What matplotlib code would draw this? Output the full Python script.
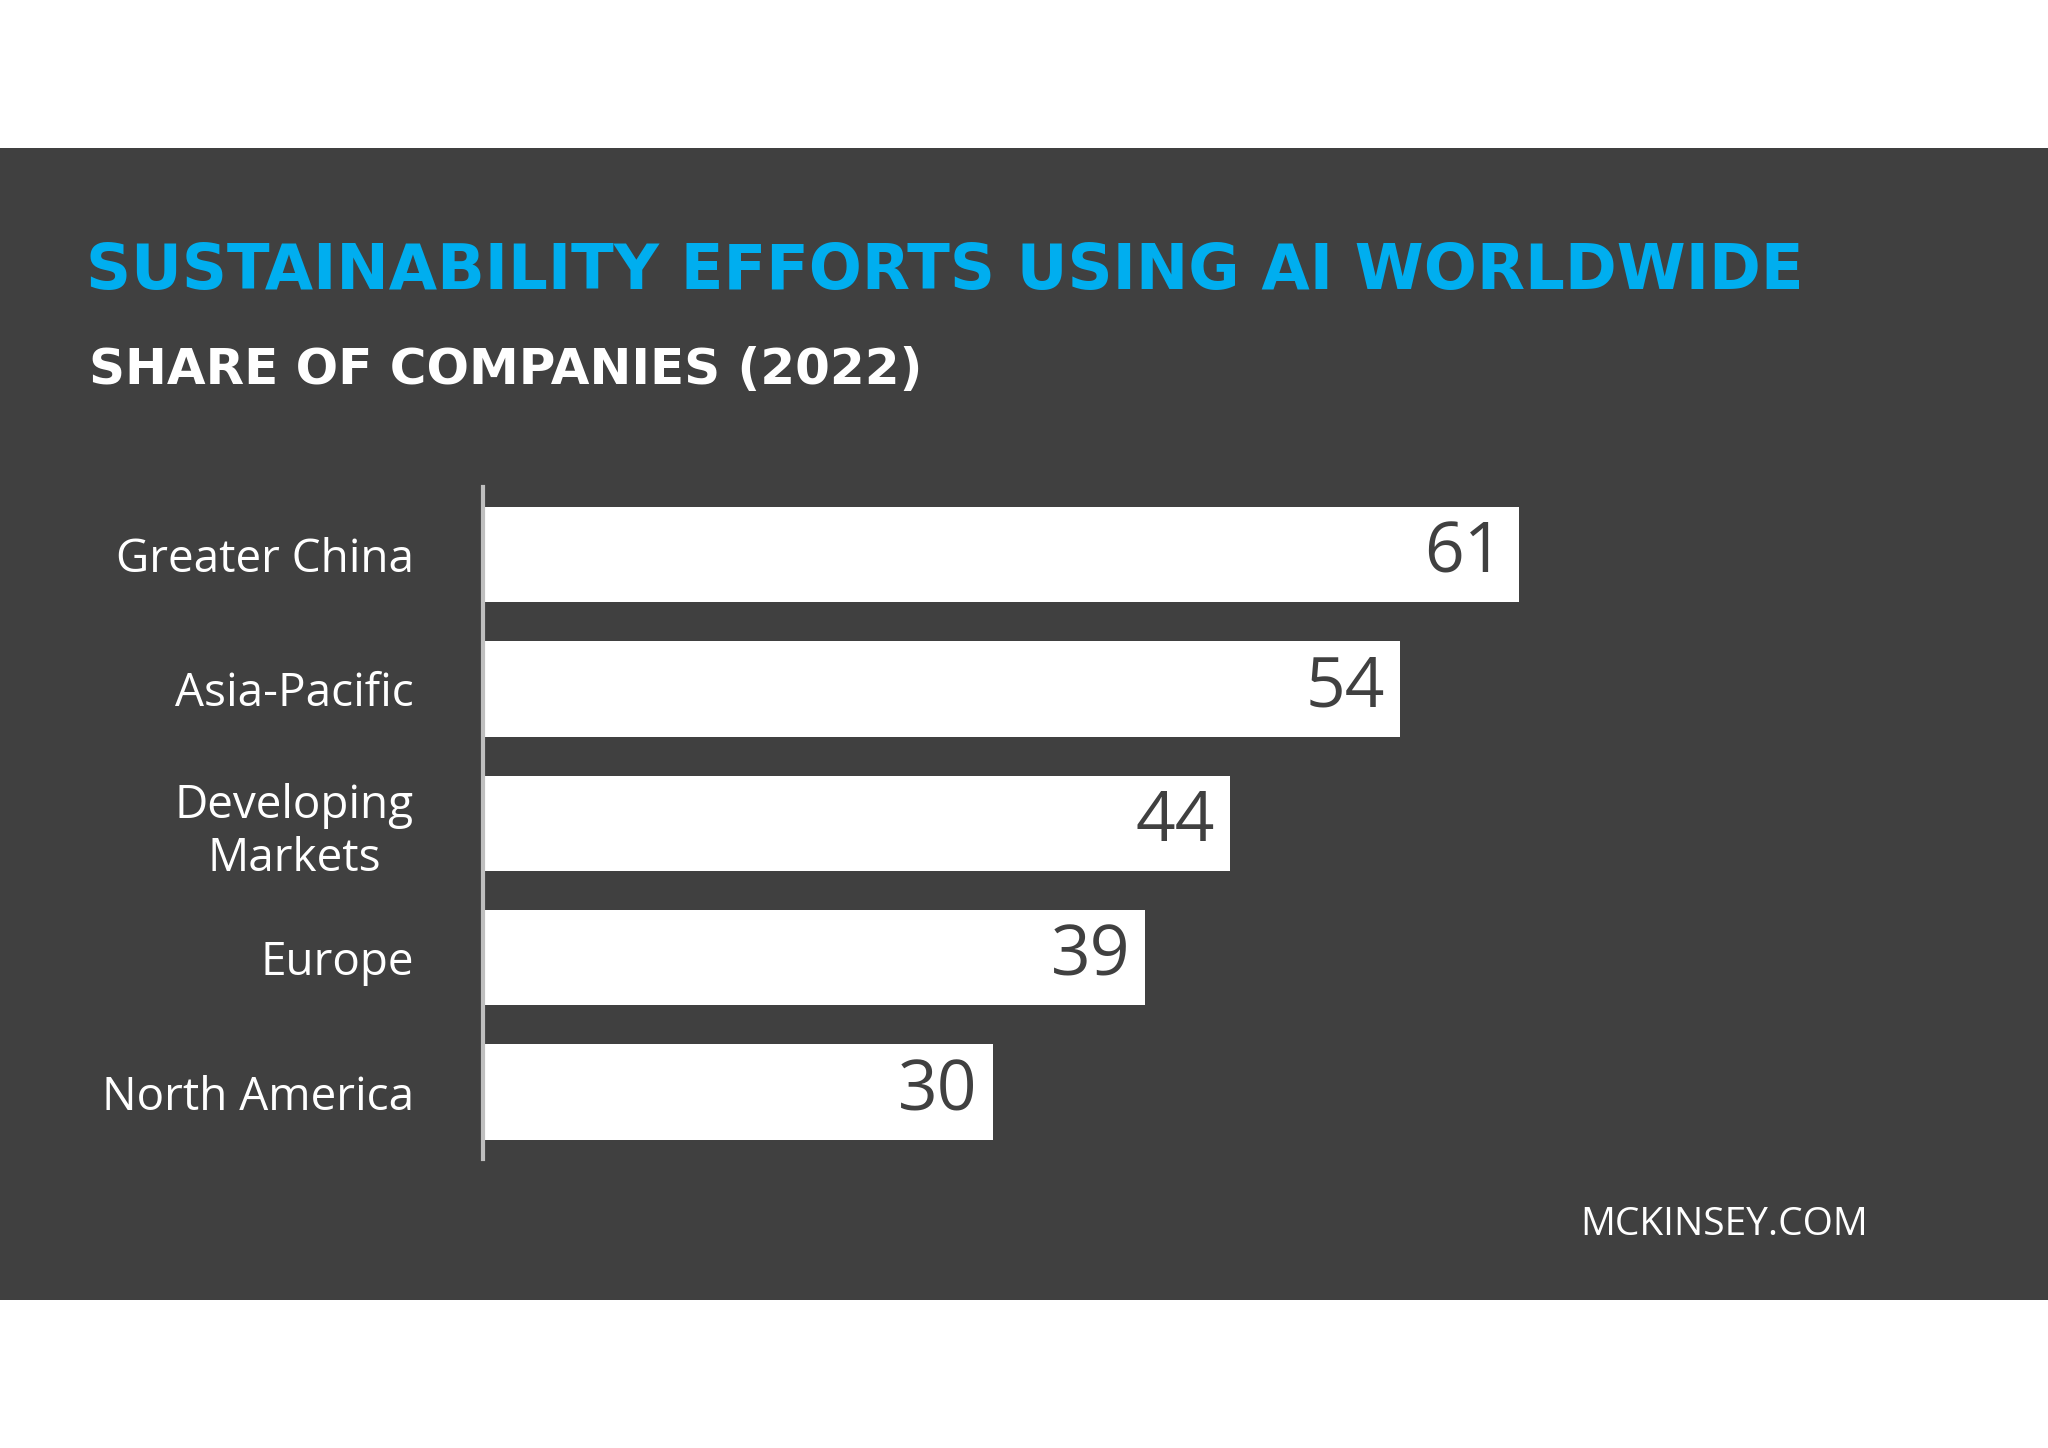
import matplotlib.pyplot as plt
from matplotlib.patches import Rectangle

regions = ['Greater China', 'Asia-Pacific', 'Developing\nMarkets', 'Europe', 'North America']
shares = [61, 54, 44, 39, 30]

W, H = 1568, 1108  # reference layout units
fig = plt.figure(figsize=(20.48, 14.48), dpi=100)
fig.patch.set_facecolor('white')
fig.patches.append(Rectangle((0, 1 - 995 / H), 1, (995 - 113) / H, transform=fig.transFigure,
                             facecolor='#404040', edgecolor='none', zorder=-5))

fig.text(66 / W, 1 - 208 / H, 'SUSTAINABILITY EFFORTS USING AI WORLDWIDE', color='#00AEEF',
         fontsize=45, fontweight='bold', family='DejaVu Sans', va='center', ha='left')
fig.text(68 / W, 1 - 283 / H, 'SHARE OF COMPANIES (2022)', color='white',
         fontsize=36, fontweight='bold', family='DejaVu Sans', va='center', ha='left')
fig.text(1430 / W, 1 - 937 / H, 'MCKINSEY.COM', color='white', fontsize=28,
         family='Open Sans', va='center', ha='right')

ax = fig.add_axes([370 / W, 1 - 887 / H, 1170 / W, 514 / H])
ax.set_zorder(5)
ax.set_facecolor('none')
y = list(range(len(regions)))
ax.barh(y, shares, height=0.71, color='white')
for yi, v in zip(y, shares):
    ax.text(v - 0.9, yi, str(v), ha='right', va='center', fontsize=50,
            family='Open Sans', color='#404040')
ax.set_xlim(0, 90)
ax.set_ylim(4.5, -0.5)
ax.set_yticks(y)
ax.set_yticklabels(regions, fontsize=33, family='Open Sans', color='white', multialignment='center')
ax.tick_params(axis='y', length=0, pad=50)
ax.set_xticks([])
for s in ['top', 'right', 'bottom']:
    ax.spines[s].set_visible(False)
ax.spines['left'].set_color('#bfbfbf')
ax.spines['left'].set_linewidth(3)

fig.savefig('out.png', dpi=100, facecolor=fig.get_facecolor())
